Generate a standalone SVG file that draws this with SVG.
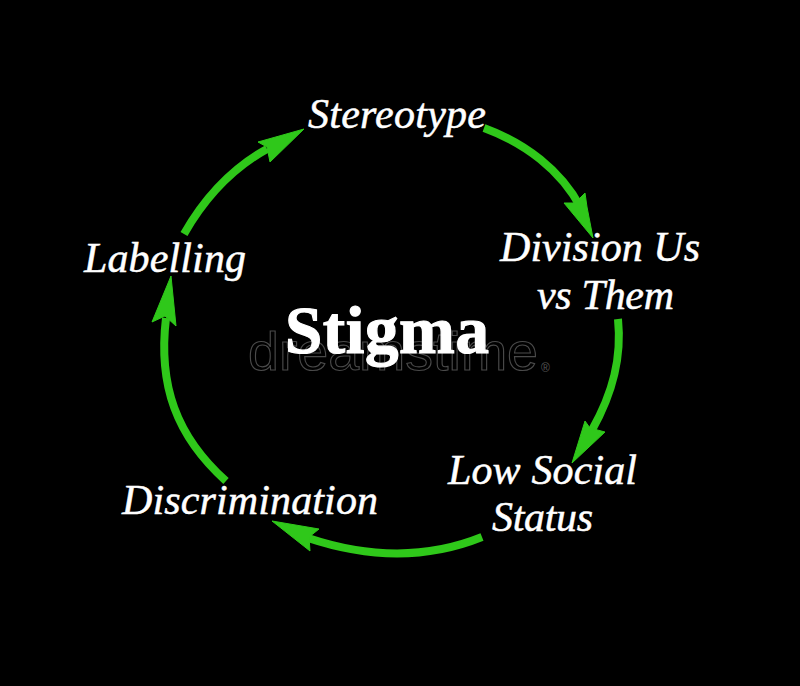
<svg xmlns="http://www.w3.org/2000/svg" width="800" height="686" viewBox="0 0 800 686">
<style>
.bg{fill:#000}
.l{font-family:"Liberation Serif","Times New Roman",serif;font-style:italic;font-size:42px;fill:#fff;stroke:#fff;stroke-width:.5}
.t{font-family:"Liberation Serif","Times New Roman",serif;font-weight:bold;font-size:67px;fill:#fff;stroke:#fff;stroke-width:1.2}
.w{font-family:"Liberation Sans",Arial,sans-serif;font-size:54px;fill:none;stroke:#4a4a4a;stroke-width:1.1}
.s{fill:none;stroke:#2fc81a;stroke-width:8}
.h{fill:#2fc81a;stroke:#2fc81a;stroke-width:1;stroke-linejoin:round}
</style>
<rect class="bg" width="800" height="686"/>
<g id="watermark">
<text class="w" x="248" y="370" textLength="290" lengthAdjust="spacingAndGlyphs">dreamstime</text>
<text x="541" y="372" font-family="Liberation Sans,Arial,sans-serif" font-size="12" fill="#555">®</text>
</g>
<g id="connectors">
<path class="s" d="M484 128C525 143 561 170 581 208"/>
<polygon class="h" points="593,238 564,203 575,203 585,193 587,207"/>
<path class="s" d="M618 319C622 358 613 393 592 430"/>
<polygon class="h" points="572,463 585,421 590,428 605,432"/>
<path class="s" d="M482 537C425 560 365 557 308 538"/>
<polygon class="h" points="272,521 319,529 309,537 310,551"/>
<path class="s" d="M226 481C176 436 158 385 166 318"/>
<polygon class="h" points="171,276 152,322 165,316 176,326"/>
<path class="s" d="M184 234C204 199 231 169 267 149"/>
<polygon class="h" points="304,129 258,142 267,147 270,162"/>
</g>
<g id="node-stigma"><text class="t" x="285" y="353" textLength="204">Stigma</text></g>
<g id="node-stereotype"><text class="l" x="308" y="128" textLength="178">Stereotype</text></g>
<g id="node-division"><text class="l" x="500" y="261" textLength="200">Division Us</text><text class="l" x="537" y="309" textLength="137">vs Them</text></g>
<g id="node-low-social"><text class="l" x="448" y="484" textLength="189">Low Social</text><text class="l" x="492" y="531" textLength="101">Status</text></g>
<g id="node-discrimination"><text class="l" x="122" y="514" textLength="256">Discrimination</text></g>
<g id="node-labelling"><text class="l" x="84" y="272" textLength="162">Labelling</text></g>
</svg>
